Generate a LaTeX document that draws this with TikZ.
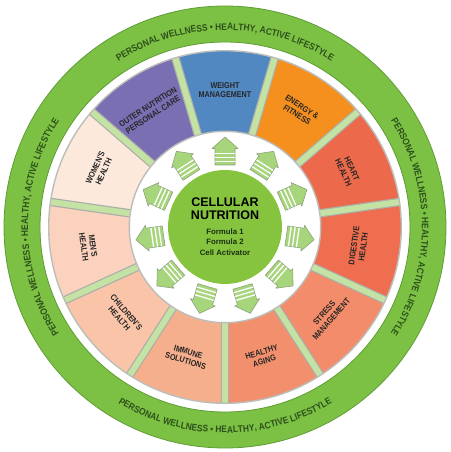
\documentclass[tikz,border=0pt]{standalone}
\usepackage{fontspec}
\setmainfont{Liberation Sans}
\newfontfamily\segfont[FakeStretch=0.86]{Liberation Sans}
\newfontfamily\ringfont[FakeStretch=0.88]{Liberation Sans}
\usetikzlibrary{decorations.text}
\definecolor{ringgreen}{HTML}{7CC143}
\definecolor{ringedge}{HTML}{5E9D36}
\definecolor{ringtext}{HTML}{2D4F1C}
\definecolor{gapgreen}{HTML}{C3E2A3}
\definecolor{gapgrey}{HTML}{ABADA8}
\definecolor{coregreen}{HTML}{86C440}
\definecolor{arrowgreen}{HTML}{A6D57C}
\definecolor{arrowedge}{HTML}{8EA37C}
\definecolor{segtextcol}{HTML}{262626}
\definecolor{cWeight}{HTML}{5288C2}
\definecolor{cEnergy}{HTML}{F5901E}
\definecolor{cHeart}{HTML}{EC6A4B}
\definecolor{cDigest}{HTML}{EE6E4F}
\definecolor{cStress}{HTML}{F38C6A}
\definecolor{cAging}{HTML}{F2906E}
\definecolor{cImmune}{HTML}{F6AF8C}
\definecolor{cChild}{HTML}{F9C4A8}
\definecolor{cMen}{HTML}{FBD2BD}
\definecolor{cWomen}{HTML}{FDE9DC}
\definecolor{cOuter}{HTML}{7A6FB2}
\tikzset{
  segtext/.style={font=\segfont\bfseries\fontsize{8.4}{9.3}\selectfont, align=center, text=segtextcol, inner sep=0pt},
  coretitle/.style={font=\bfseries\fontsize{12.5}{13}\selectfont, text=black, anchor=base, inner sep=0pt},
  coresub/.style={font=\bfseries\fontsize{7.8}{9}\selectfont, text=ringtext!60!black, anchor=base, inner sep=0pt},
  ringlabel/.style={decorate, decoration={text along path, text align=center,
    text={|\ringfont\bfseries\fontsize{9.5}{10}\selectfont\color{ringtext}|PERSONAL WELLNESS • HEALTHY, ACTIVE LIFESTYLE}}},
  arrowshape/.style={fill=arrowgreen, draw=arrowedge, line width=0.6pt, line join=round}
}
\begin{document}
\begin{tikzpicture}[x=1pt,y=1pt]
\useasboundingbox (-225,-225) rectangle (225,227);
\fill[white] (-225,-225) rectangle (225,227);
% outer ring
\fill[ringgreen, even odd rule] (0,0) circle[radius=221] (0,0) circle[radius=185];
\draw[ringedge, line width=0.8pt] (0,0) circle[radius=221] (0,0) circle[radius=185];
% ring texts
\path[ringlabel] (125:197) arc[start angle=125, end angle=55, radius=197];
\path[ringlabel] (35:197) arc[start angle=35, end angle=-35, radius=197];
\path[ringlabel] (215:197) arc[start angle=215, end angle=145, radius=197];
\path[ringlabel] (235:206) arc[start angle=235, end angle=305, radius=206];
% segments
\foreach \c [count=\k from 0] in {cWeight,cEnergy,cHeart,cDigest,cStress,cAging,cImmune,cChild,cMen,cWomen,cOuter}{
  \pgfmathsetmacro{\aone}{90-\k*32.72727+16.36364}
  \pgfmathsetmacro{\atwo}{90-\k*32.72727-16.36364}
  \fill[\c] (\aone:96) arc[start angle=\aone, end angle=\atwo, radius=96] -- (\atwo:176)
     arc[start angle=\atwo, end angle=\aone, radius=176] -- cycle;
}
% gaps
\foreach \k in {0,...,10}{
  \pgfmathsetmacro{\b}{90-\k*32.72727+16.36364}
  \draw[gapgrey, line width=8.4pt] (\b:96) -- (\b:176);
  \draw[gapgreen, line width=6pt] (\b:96) -- (\b:176);
}
\draw[gapgrey!80, line width=1.4pt] (0,0) circle[radius=176.3] (0,0) circle[radius=95.7];
% segment labels
\node[segtext] (sWeight) at (90:137) {WEIGHT\\MANAGEMENT};
\node[segtext, rotate=-32.73] (sEnergy) at (57.27:138) {ENERGY \&\\FITNESS};
\node[segtext, rotate=-65.45] (sHeart) at (24.55:135) {HEART\\HEALTH};
\node[segtext, rotate=81.82] (sDigest) at (-8.18:135) {DIGESTIVE\\HEALTH};
\node[segtext, rotate=49.09] (sStress) at (-40.91:136) {STRESS\\MANAGEMENT};
\node[segtext, rotate=16.36] (sAging) at (-73.64:135) {HEALTHY\\AGING};
\node[segtext, rotate=-16.36] (sImmune) at (-106.36:135) {IMMUNE\\SOLUTIONS};
\node[segtext, rotate=-49.09] (sChild) at (-139.09:135) {CHILDREN'S\\HEALTH};
\node[segtext, rotate=-81.82] (sMen) at (-171.82:138) {MEN'S\\HEALTH};
\node[segtext, rotate=65.45] (sWomen) at (155.45:138) {WOMEN'S\\HEALTH};
\node[segtext, rotate=32.73] (sOuter) at (122.73:138) {OUTER NUTRITION\\PERSONAL CARE};
% arrows
\foreach \k in {0,...,10}{
  \pgfmathsetmacro{\r}{-\k*32.72727}
  \begin{scope}[rotate=\r]
    \draw[arrowshape] (-10,62) -- (-10,78.5) -- (-13,78.5) -- (0,90) -- (13,78.5) -- (10,78.5) -- (10,62) -- cycle;
    \foreach \yy in {65.5,69.5,73.5}{
      \draw[white, line width=1.3pt] (-9.7,\yy) -- (9.7,\yy);
    }
  \end{scope}
}
% core
\fill[coregreen] (0,0) circle[radius=57];
\node[coretitle] (cell1) at (0,20.5) {CELLULAR};
\node[coretitle] (cell2) at (0,7.8) {NUTRITION};
\node[coresub] (f1) at (0,-7.3) {Formula 1};
\node[coresub] (f2) at (0,-17.3) {Formula 2};
\node[coresub] (f3) at (0,-28) {Cell Activator};
\end{tikzpicture}
\end{document}
